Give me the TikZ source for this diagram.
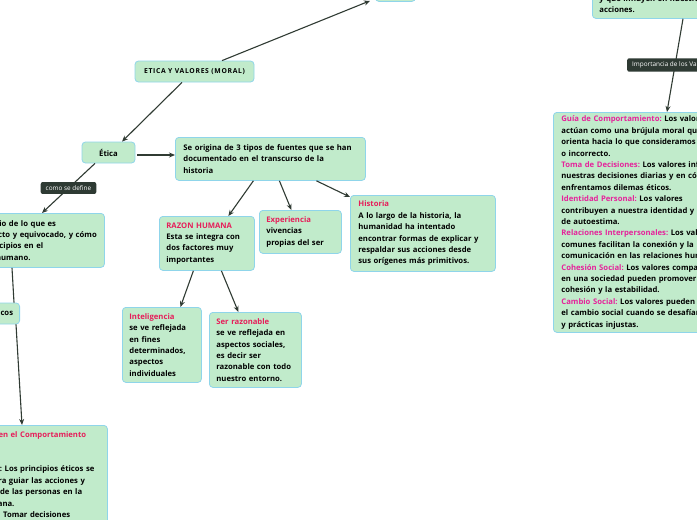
\documentclass[tikz,border=0pt]{standalone}
\usepackage{fontspec}
\setmainfont{Open Sans}
\usetikzlibrary{arrows.meta}
\definecolor{boxc}{HTML}{C1EBCB}
\definecolor{bordc}{HTML}{8FD5EA}
\definecolor{linec}{HTML}{303B33}
\definecolor{labc}{HTML}{2E3A33}
\definecolor{crim}{HTML}{E61E5A}
\definecolor{mag}{HTML}{E5239B}
\tikzset{
  box/.style={draw=bordc, fill=boxc, rounded corners=3.5pt, line width=0.8pt, align=left,
    inner xsep=7pt, inner ysep=3pt, font=\fontsize{7.7}{11.4}\selectfont\bfseries\frenchspacing, text=black},
  conn/.style={draw=linec, line width=1.1pt, -{Stealth[length=6pt,width=5pt]}},
  plain/.style={draw=linec, line width=1.1pt},
  lbl/.style={fill=labc, text=white, rounded corners=2pt, font=\fontsize{6.4}{8}\selectfont, inner xsep=5pt, inner ysep=3.5pt}
}
\begin{document}
\begin{tikzpicture}[x=1pt,y=-1pt]
\clip (0,0) rectangle (697,520);
\useasboundingbox (0,0) rectangle (697,520);
\fill[white] (0,0) rectangle (697,520);

% nodes
\node[box, anchor=north west, minimum width=40pt, minimum height=31pt] (top) at (375,-30) {};
\node[box, anchor=north west, minimum width=160pt, minimum height=28pt, text width=146pt] (tr) at (592,-10)
  {y que influyen en nuestras\\acciones.};
\node[box, anchor=north west, minimum width=230pt, minimum height=220pt, text width=214pt, inner xsep=8pt] (right) at (553,112)
  {\textcolor{mag}{Guía de Comportamiento:} Los valores\\
   actúan como una brújula moral que nos\\
   orienta hacia lo que consideramos correcto\\
   o incorrecto.\\
   \textcolor{mag}{Toma de Decisiones:} Los valores influyen en\\
   nuestras decisiones diarias y en cómo\\
   enfrentamos dilemas éticos.\\
   \textcolor{mag}{Identidad Personal:} Los valores\\
   contribuyen a nuestra identidad y sentido\\
   de autoestima.\\
   \textcolor{mag}{Relaciones Interpersonales:} Los valores\\
   comunes facilitan la conexión y la\\
   comunicación en las relaciones humanas.\\
   \textcolor{mag}{Cohesión Social:} Los valores compartidos\\
   en una sociedad pueden promover la\\
   cohesión y la estabilidad.\\
   \textcolor{mag}{Cambio Social:} Los valores pueden impulsar\\
   el cambio social cuando se desafían normas\\
   y prácticas injustas.};
\node[box, minimum width=119pt, minimum height=21pt, align=center, font=\fontsize{6.8}{8}\selectfont\bfseries\addfontfeature{LetterSpace=10}] (etv) at (194.5,71.5) {ETICA Y VALORES (MORAL)};
\node[box, minimum width=53pt, minimum height=21pt, align=center] (etica) at (108.5,152.5) {Ética};
\node[box, anchor=north west, minimum width=190pt, minimum height=43pt, text width=174pt, inner xsep=8pt] (orig) at (175,137)
  {Se origina de 3 tipos de fuentes que se han\\documentado en el transcurso de la\\historia};
\node[box, anchor=north west, minimum width=143pt, minimum height=54pt, text width=129pt] (def) at (-39,213)
  {El estudio de lo que es\\lo correcto y equivocado, y cómo\\sus principios en el\\actuar humano.};
\node[box, anchor=east, minimum height=21pt, align=center, inner xsep=6.5pt] (cos) at (20,313.5) {Principios éticos};
\node[box, anchor=north west, minimum width=157pt, text width=143pt, inner ysep=6.5pt] (bot) at (-50,425)
  {\textcolor{crim}{Influencia en el Comportamiento}\\[22.8pt]
   Guía Moral: Los principios éticos se\\
   utilizan para guiar las acciones y\\
   decisiones de las personas en la\\
   vida cotidiana.\\
   Decisiones: Tomar decisiones\\
   éticas en la vida diaria.};
\node[box, anchor=north west, minimum width=95pt, minimum height=54pt, text width=81pt] (razon) at (159,216)
  {\textcolor{crim}{RAZON HUMANA}\\Esta se integra con\\dos factores muy\\importantes};
\node[box, anchor=north west, minimum width=82pt, minimum height=43pt, text width=68pt] (exp) at (259,210)
  {\textcolor{crim}{Experiencia}\\vivencias\\propias del ser};
\node[box, anchor=north west, minimum width=145pt, minimum height=76pt, text width=129pt, inner xsep=8pt] (hist) at (350,195)
  {\textcolor{crim}{Historia}\\A lo largo de la historia, la\\humanidad ha intentado\\encontrar formas de explicar y\\respaldar sus acciones desde\\sus orígenes más primitivos.};
\node[box, anchor=north west, minimum width=79pt, minimum height=75pt, text width=65pt] (intel) at (122,307)
  {\textcolor{crim}{Inteligencia}\\se ve reflejada\\en fines\\determinados,\\aspectos\\individuales};
\node[box, anchor=north west, minimum width=92pt, minimum height=75pt, text width=78pt] (ser) at (209,312)
  {\textcolor{crim}{Ser razonable}\\se ve reflejada en\\aspectos sociales,\\es decir ser\\razonable con todo\\nuestro entorno.};

% connectors
\draw[conn] ([xshift=27.5pt]etv.north) -- ([xshift=-5pt,yshift=1pt]top.south west);
\draw[conn] ([xshift=-12.5pt]etv.south) -- ([xshift=13.5pt]etica.north);
\draw[conn] ([xshift=2pt,yshift=-2.5pt]etica.east) -- ([yshift=-2.5pt]etica.east -| orig.west);
\draw[conn] ([xshift=-13.5pt]etica.south) -- ([xshift=81pt]def.north west);
\draw[conn] ([xshift=-17pt]orig.south) -- ([xshift=21.5pt]razon.north);
\draw[conn] ([xshift=9pt]orig.south) -- ([xshift=-9pt]exp.north);
\draw[conn] ([xshift=46pt]orig.south) -- ([yshift=-2pt]hist.north west);
\draw[conn] ([xshift=-13.5pt]razon.south) -- ([xshift=18.5pt]intel.north);
\draw[conn] ([xshift=14.5pt]razon.south) -- ([xshift=-17pt]ser.north);
\draw[plain] ([xshift=51pt]def.south west) -- ([xshift=-6pt]cos.north east);
\draw[conn] ([xshift=-4pt]cos.south east) -- ([xshift=72pt]bot.north west);
\draw[conn] ([xshift=91pt]tr.south west) -- ([xshift=114pt]right.north west);

% labels on connectors
\node[lbl] (l1) at (68.5,188) {como se define};
\node[lbl, anchor=west] (l2) at (627,65) {Importancia de los Valores};
\end{tikzpicture}
\end{document}
